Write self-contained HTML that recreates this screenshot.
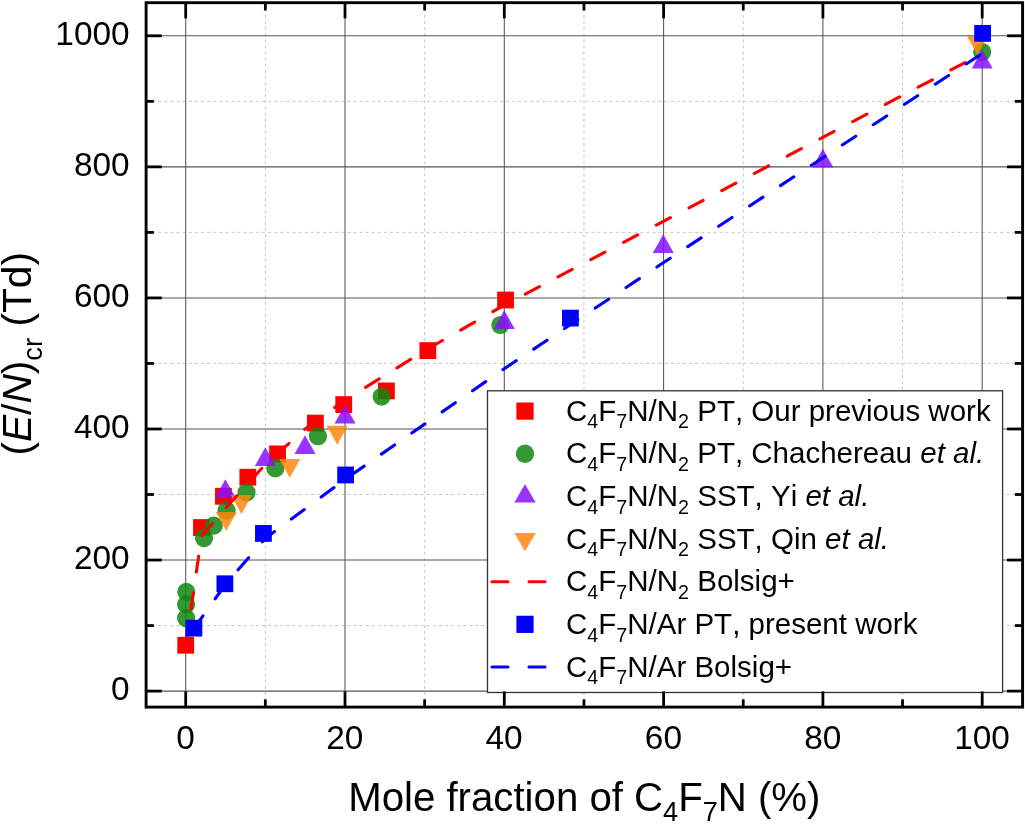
<!DOCTYPE html>
<html lang="en"><head><meta charset="utf-8">
<title>(E/N)cr versus mole fraction of C4F7N</title>
<style>
html,body{margin:0;padding:0;background:#fff;}
body{width:1025px;height:824px;overflow:hidden;}
svg{display:block;}
svg text{font-family:"Liberation Sans",Arial,Helvetica,sans-serif;fill:#000;font-kerning:none;}
.tick{font-size:33.4px;}
.title{font-size:40.2px;}
.leg{font-size:29.5px;}
.it{font-style:italic;}
</style></head><body>
<svg width="1025" height="824" viewBox="0 0 1025 824">
<rect x="0" y="0" width="1025" height="824" fill="#ffffff"/>
<g id="grid" fill="none">
<g stroke="#c6c6c6" stroke-width="1" stroke-dasharray="3 3.1">
<line x1="265.35" y1="2.70" x2="265.35" y2="707.10"/>
<line x1="424.65" y1="2.70" x2="424.65" y2="707.10"/>
<line x1="583.95" y1="2.70" x2="583.95" y2="707.10"/>
<line x1="743.25" y1="2.70" x2="743.25" y2="707.10"/>
<line x1="902.55" y1="2.70" x2="902.55" y2="707.10"/>
<line x1="146.10" y1="625.57" x2="1022.60" y2="625.57"/>
<line x1="146.10" y1="494.51" x2="1022.60" y2="494.51"/>
<line x1="146.10" y1="363.45" x2="1022.60" y2="363.45"/>
<line x1="146.10" y1="232.39" x2="1022.60" y2="232.39"/>
<line x1="146.10" y1="101.33" x2="1022.60" y2="101.33"/>
</g>
<g stroke="#555555" stroke-width="1.05">
<line x1="185.70" y1="2.70" x2="185.70" y2="707.10"/>
<line x1="345.00" y1="2.70" x2="345.00" y2="707.10"/>
<line x1="504.30" y1="2.70" x2="504.30" y2="707.10"/>
<line x1="663.60" y1="2.70" x2="663.60" y2="707.10"/>
<line x1="822.90" y1="2.70" x2="822.90" y2="707.10"/>
<line x1="982.20" y1="2.70" x2="982.20" y2="707.10"/>
<line x1="146.10" y1="691.10" x2="1022.60" y2="691.10"/>
<line x1="146.10" y1="560.04" x2="1022.60" y2="560.04"/>
<line x1="146.10" y1="428.98" x2="1022.60" y2="428.98"/>
<line x1="146.10" y1="297.92" x2="1022.60" y2="297.92"/>
<line x1="146.10" y1="166.86" x2="1022.60" y2="166.86"/>
<line x1="146.10" y1="35.80" x2="1022.60" y2="35.80"/>
</g>
</g>
<g id="series">
<g fill="#ff0000"><rect x="177.30" y="636.83" width="16.80" height="16.80"/><rect x="193.07" y="519.14" width="16.80" height="16.80"/><rect x="215.05" y="487.88" width="16.80" height="16.80"/><rect x="239.43" y="468.81" width="16.80" height="16.80"/><rect x="269.14" y="445.48" width="16.80" height="16.80"/><rect x="306.97" y="414.68" width="16.80" height="16.80"/><rect x="335.33" y="396.20" width="16.80" height="16.80"/><rect x="378.02" y="382.51" width="16.80" height="16.80"/><rect x="419.44" y="342.21" width="16.80" height="16.80"/><rect x="497.17" y="291.62" width="16.80" height="16.80"/></g>
<g fill="#0f870f" fill-opacity="0.85"><circle cx="186.10" cy="618.10" r="9.1"/><circle cx="186.10" cy="604.40" r="9.1"/><circle cx="186.26" cy="591.89" r="9.1"/><circle cx="204.02" cy="538.09" r="9.1"/><circle cx="213.74" cy="525.64" r="9.1"/><circle cx="226.56" cy="510.63" r="9.1"/><circle cx="246.47" cy="492.48" r="9.1"/><circle cx="275.31" cy="468.43" r="9.1"/><circle cx="317.92" cy="436.25" r="9.1"/><circle cx="381.64" cy="396.61" r="9.1"/><circle cx="500.32" cy="324.98" r="9.1"/><circle cx="982.20" cy="51.99" r="9.1"/></g>
<g fill="#870fff" fill-opacity="0.85"><polygon points="225.37,479.16 235.87,497.96 214.87,497.96"/><polygon points="265.35,447.25 275.85,466.05 254.85,466.05"/><polygon points="305.02,435.19 315.52,453.99 294.52,453.99"/><polygon points="345.00,404.78 355.50,423.58 334.50,423.58"/><polygon points="504.30,310.16 514.80,328.96 493.80,328.96"/><polygon points="663.28,234.14 673.78,252.94 652.78,252.94"/><polygon points="822.90,148.76 833.40,167.56 812.40,167.56"/><polygon points="982.20,49.74 992.70,68.54 971.70,68.54"/></g>
<g fill="#ff870f" fill-opacity="0.85"><polygon points="226.24,530.83 236.74,512.03 215.74,512.03"/><polygon points="241.45,513.92 251.95,495.12 230.95,495.12"/><polygon points="289.72,477.75 300.22,458.95 279.22,458.95"/><polygon points="337.27,444.66 347.77,425.86 326.77,425.86"/><polygon points="977.42,54.89 987.92,36.09 966.92,36.09"/></g>
<polyline points="185.70,645.23 201.63,535.79 225.52,508.27 265.35,464.37 305.17,428.98 345.00,400.15 424.65,350.67 504.30,305.13 982.20,53.49" fill="none" stroke="#ff0000" stroke-width="3.1" stroke-dasharray="16 21" stroke-linecap="round" stroke-linejoin="round"/>
<g fill="#0000ff"><rect x="185.50" y="619.73" width="16.80" height="16.80"/><rect x="216.49" y="575.36" width="16.80" height="16.80"/><rect x="255.04" y="525.03" width="16.80" height="16.80"/><rect x="337.24" y="466.58" width="16.80" height="16.80"/><rect x="562.01" y="309.70" width="16.80" height="16.80"/><rect x="974.20" y="24.98" width="16.80" height="16.80"/></g>
<polyline points="193.66,628.85 225.52,584.29 265.35,538.42 345.00,479.44 504.30,368.69 663.60,262.53 822.90,157.69 982.20,53.49" fill="none" stroke="#0000ff" stroke-width="3.1" stroke-dasharray="16 21" stroke-linecap="round" stroke-linejoin="round"/>
</g>
<g id="legend">
<rect x="487.5" y="390.8" width="515.10" height="301.70" fill="#ffffff" stroke="#333333" stroke-width="1.3"/>
<g fill="#ff0000"><rect x="516.40" y="402.50" width="17.20" height="17.20"/></g>
<circle cx="525.0" cy="453.75" r="9.2" fill="#0f870f" fill-opacity="0.85"/>
<g fill="#870fff" fill-opacity="0.85"><polygon points="525.00,484.27 535.70,502.47 514.30,502.47"/></g>
<g fill="#ff870f" fill-opacity="0.85"><polygon points="525.00,551.18 535.70,532.98 514.30,532.98"/></g>
<line x1="492" y1="581.70" x2="545" y2="581.70" stroke="#ff0000" stroke-width="3.1" stroke-dasharray="16 21" stroke-linecap="round"/>
<g fill="#0000ff"><rect x="516.40" y="615.75" width="17.20" height="17.20"/></g>
<line x1="492" y1="667.00" x2="545" y2="667.00" stroke="#0000ff" stroke-width="3.1" stroke-dasharray="16 21" stroke-linecap="round"/>
<text class="leg" x="566.0" y="420.70" xml:space="preserve">C<tspan font-size="19.7" dy="7.6">4</tspan><tspan dy="-7.6">F</tspan><tspan font-size="19.7" dy="7.6">7</tspan><tspan dy="-7.6">N/N</tspan><tspan font-size="19.7" dy="7.6">2</tspan><tspan dy="-7.6"> PT, Our previous work</tspan></text>
<text class="leg" x="566.0" y="463.35" xml:space="preserve">C<tspan font-size="19.7" dy="7.6">4</tspan><tspan dy="-7.6">F</tspan><tspan font-size="19.7" dy="7.6">7</tspan><tspan dy="-7.6">N/N</tspan><tspan font-size="19.7" dy="7.6">2</tspan><tspan dy="-7.6"> PT, Chachereau </tspan><tspan class="it">et al.</tspan></text>
<text class="leg" x="566.0" y="506.00" xml:space="preserve">C<tspan font-size="19.7" dy="7.6">4</tspan><tspan dy="-7.6">F</tspan><tspan font-size="19.7" dy="7.6">7</tspan><tspan dy="-7.6">N/N</tspan><tspan font-size="19.7" dy="7.6">2</tspan><tspan dy="-7.6"> SST, Yi </tspan><tspan class="it">et al.</tspan></text>
<text class="leg" x="566.0" y="548.65" xml:space="preserve">C<tspan font-size="19.7" dy="7.6">4</tspan><tspan dy="-7.6">F</tspan><tspan font-size="19.7" dy="7.6">7</tspan><tspan dy="-7.6">N/N</tspan><tspan font-size="19.7" dy="7.6">2</tspan><tspan dy="-7.6"> SST, Qin </tspan><tspan class="it">et al.</tspan></text>
<text class="leg" x="566.0" y="591.30" xml:space="preserve">C<tspan font-size="19.7" dy="7.6">4</tspan><tspan dy="-7.6">F</tspan><tspan font-size="19.7" dy="7.6">7</tspan><tspan dy="-7.6">N/N</tspan><tspan font-size="19.7" dy="7.6">2</tspan><tspan dy="-7.6"> Bolsig+</tspan></text>
<text class="leg" x="566.0" y="633.95" xml:space="preserve">C<tspan font-size="19.7" dy="7.6">4</tspan><tspan dy="-7.6">F</tspan><tspan font-size="19.7" dy="7.6">7</tspan><tspan dy="-7.6">N/Ar PT, present work</tspan></text>
<text class="leg" x="566.0" y="676.60" xml:space="preserve">C<tspan font-size="19.7" dy="7.6">4</tspan><tspan dy="-7.6">F</tspan><tspan font-size="19.7" dy="7.6">7</tspan><tspan dy="-7.6">N/Ar Bolsig+</tspan></text>
</g>
<g id="axes" stroke="#000" fill="none">
<line x1="185.70" y1="707.10" x2="185.70" y2="691.45" stroke-width="2.8"/>
<line x1="185.70" y1="2.70" x2="185.70" y2="18.35" stroke-width="2.8"/>
<line x1="265.35" y1="707.10" x2="265.35" y2="699.35" stroke-width="2.8"/>
<line x1="265.35" y1="2.70" x2="265.35" y2="10.45" stroke-width="2.8"/>
<line x1="345.00" y1="707.10" x2="345.00" y2="691.45" stroke-width="2.8"/>
<line x1="345.00" y1="2.70" x2="345.00" y2="18.35" stroke-width="2.8"/>
<line x1="424.65" y1="707.10" x2="424.65" y2="699.35" stroke-width="2.8"/>
<line x1="424.65" y1="2.70" x2="424.65" y2="10.45" stroke-width="2.8"/>
<line x1="504.30" y1="707.10" x2="504.30" y2="691.45" stroke-width="2.8"/>
<line x1="504.30" y1="2.70" x2="504.30" y2="18.35" stroke-width="2.8"/>
<line x1="583.95" y1="707.10" x2="583.95" y2="699.35" stroke-width="2.8"/>
<line x1="583.95" y1="2.70" x2="583.95" y2="10.45" stroke-width="2.8"/>
<line x1="663.60" y1="707.10" x2="663.60" y2="691.45" stroke-width="2.8"/>
<line x1="663.60" y1="2.70" x2="663.60" y2="18.35" stroke-width="2.8"/>
<line x1="743.25" y1="707.10" x2="743.25" y2="699.35" stroke-width="2.8"/>
<line x1="743.25" y1="2.70" x2="743.25" y2="10.45" stroke-width="2.8"/>
<line x1="822.90" y1="707.10" x2="822.90" y2="691.45" stroke-width="2.8"/>
<line x1="822.90" y1="2.70" x2="822.90" y2="18.35" stroke-width="2.8"/>
<line x1="902.55" y1="707.10" x2="902.55" y2="699.35" stroke-width="2.8"/>
<line x1="902.55" y1="2.70" x2="902.55" y2="10.45" stroke-width="2.8"/>
<line x1="982.20" y1="707.10" x2="982.20" y2="691.45" stroke-width="2.8"/>
<line x1="982.20" y1="2.70" x2="982.20" y2="18.35" stroke-width="2.8"/>
<line x1="146.10" y1="691.10" x2="161.75" y2="691.10" stroke-width="2.8"/>
<line x1="1022.60" y1="691.10" x2="1006.95" y2="691.10" stroke-width="2.8"/>
<line x1="146.10" y1="625.57" x2="153.85" y2="625.57" stroke-width="2.8"/>
<line x1="1022.60" y1="625.57" x2="1014.85" y2="625.57" stroke-width="2.8"/>
<line x1="146.10" y1="560.04" x2="161.75" y2="560.04" stroke-width="2.8"/>
<line x1="1022.60" y1="560.04" x2="1006.95" y2="560.04" stroke-width="2.8"/>
<line x1="146.10" y1="494.51" x2="153.85" y2="494.51" stroke-width="2.8"/>
<line x1="1022.60" y1="494.51" x2="1014.85" y2="494.51" stroke-width="2.8"/>
<line x1="146.10" y1="428.98" x2="161.75" y2="428.98" stroke-width="2.8"/>
<line x1="1022.60" y1="428.98" x2="1006.95" y2="428.98" stroke-width="2.8"/>
<line x1="146.10" y1="363.45" x2="153.85" y2="363.45" stroke-width="2.8"/>
<line x1="1022.60" y1="363.45" x2="1014.85" y2="363.45" stroke-width="2.8"/>
<line x1="146.10" y1="297.92" x2="161.75" y2="297.92" stroke-width="2.8"/>
<line x1="1022.60" y1="297.92" x2="1006.95" y2="297.92" stroke-width="2.8"/>
<line x1="146.10" y1="232.39" x2="153.85" y2="232.39" stroke-width="2.8"/>
<line x1="1022.60" y1="232.39" x2="1014.85" y2="232.39" stroke-width="2.8"/>
<line x1="146.10" y1="166.86" x2="161.75" y2="166.86" stroke-width="2.8"/>
<line x1="1022.60" y1="166.86" x2="1006.95" y2="166.86" stroke-width="2.8"/>
<line x1="146.10" y1="101.33" x2="153.85" y2="101.33" stroke-width="2.8"/>
<line x1="1022.60" y1="101.33" x2="1014.85" y2="101.33" stroke-width="2.8"/>
<line x1="146.10" y1="35.80" x2="161.75" y2="35.80" stroke-width="2.8"/>
<line x1="1022.60" y1="35.80" x2="1006.95" y2="35.80" stroke-width="2.8"/>
<rect x="146.1" y="2.7" width="876.50" height="704.40" stroke-width="2.9"/>
</g>
<g id="ticklabels">
<text class="tick" x="185.50" y="749.4" text-anchor="middle">0</text>
<text class="tick" x="344.80" y="749.4" text-anchor="middle">20</text>
<text class="tick" x="504.10" y="749.4" text-anchor="middle">40</text>
<text class="tick" x="663.40" y="749.4" text-anchor="middle">60</text>
<text class="tick" x="822.70" y="749.4" text-anchor="middle">80</text>
<text class="tick" x="982.00" y="749.4" text-anchor="middle">100</text>
<text class="tick" x="129.6" y="700.20" text-anchor="end">0</text>
<text class="tick" x="129.6" y="569.14" text-anchor="end">200</text>
<text class="tick" x="129.6" y="438.08" text-anchor="end">400</text>
<text class="tick" x="129.6" y="307.02" text-anchor="end">600</text>
<text class="tick" x="129.6" y="175.96" text-anchor="end">800</text>
<text class="tick" x="129.6" y="44.90" text-anchor="end">1000</text>
</g>
<text class="title" x="584.3" y="811" text-anchor="middle" xml:space="preserve">Mole fraction of C<tspan font-size="27" dy="10.4">4</tspan><tspan dy="-10.4">F</tspan><tspan font-size="27" dy="10.4">7</tspan><tspan dy="-10.4">N (%)</tspan></text>
<text class="title" style="font-size:40.7px" transform="translate(30.9 353.8) rotate(-90)" text-anchor="middle" xml:space="preserve">(<tspan class="it">E</tspan>/<tspan class="it">N</tspan>)<tspan font-size="27.3" dy="10.8">cr</tspan><tspan dy="-10.8"> (Td)</tspan></text>
</svg>
</body></html>
